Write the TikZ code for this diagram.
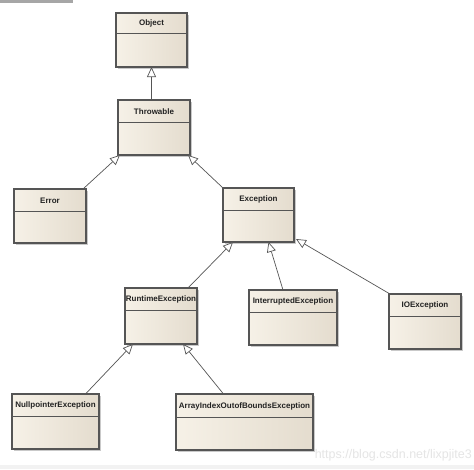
\documentclass[tikz,border=0pt]{standalone}
\usepackage{fontspec}
\setmainfont{Liberation Sans}
\usetikzlibrary{arrows.meta,shadows,calc}
\definecolor{boxL}{HTML}{F6F1E7}
\definecolor{boxR}{HTML}{E4DCCE}
\definecolor{edge}{HTML}{555555}
\definecolor{txt}{HTML}{222222}
\tikzset{
  umlbox/.style={draw=edge, line width=1.1pt, left color=boxL, right color=boxR,
    inner sep=0pt, outer sep=0pt,
    drop shadow={shadow xshift=1.6pt, shadow yshift=-1.6pt, opacity=0.35, fill=black!60}},
  umltitle/.style={font=\fontsize{8}{9}\selectfont\bfseries, text=txt, inner sep=0pt},
  divider/.style={draw=edge, line width=0.9pt},
  inherit/.style={draw=edge, line width=0.7pt, -{Triangle[open, length=10pt, width=9pt, fill=white]}}
}
\newcommand{\umlclass}[7]{%
  \node[umlbox, minimum width=#4-#2, minimum height=#5-#3] (#1) at ({(#2+#4)/2},{(#3+#5)/2}) {};
  \draw[divider] (#2,#6) -- (#4,#6);
  \node[umltitle] (#1-t) at ({(#2+#4)/2},{(#3+#6)/2+0.5}) {#7};
}
\begin{document}
\begin{tikzpicture}[x=1pt,y=-1pt]
\useasboundingbox (0,0) rectangle (474,469);
\fill[white] (0,0) rectangle (474,469);
\fill[black!35] (0,0) rectangle (73,2.5);
\fill[black!5] (0,465) rectangle (474,469);
\node[anchor=east, text=black!10, font=\fontsize{12.5}{13}\selectfont, inner sep=0pt] (wm) at (472,455) {https://blog.csdn.net/lixpjite3};

\umlclass{Object}{116}{13}{187}{67}{33}{Object}
\umlclass{Throwable}{118}{100}{190}{155}{122}{Throwable}
\umlclass{Error}{14}{189}{86}{243}{211}{Error}
\umlclass{Exception}{223}{188}{294}{242}{210}{Exception}
\umlclass{Runtime}{125}{288}{197}{344}{310}{RuntimeException}
\umlclass{Interrupted}{249}{290}{337}{345}{312}{InterruptedException}
\umlclass{IOE}{389}{294}{461}{349}{316}{IOException}
\umlclass{Nullp}{12}{394}{99}{449}{416}{NullpointerException}
\umlclass{Arr}{176}{394}{313}{450}{417}{ArrayIndexOutofBoundsException}

\draw[inherit] (Object.south |- Throwable.north) -- (Object.south);
\draw[inherit] ($(Error.north east)+(-3,0)$) -- ($(Throwable.south west)+(2,0)$);
\draw[inherit] (Exception.north west) -- ($(Throwable.south east)+(-2,0)$);
\draw[inherit] ($(Runtime.north east)+(-9,0)$) -- ($(Exception.south west)+(10,0)$);
\draw[inherit] ($(Interrupted.north)+(-10,0)$) -- ($(Exception.south)+(10,0)$);
\draw[inherit] ($(IOE.north west)+(1,0)$) -- ($(Exception.south east)+(2,-3)$);
\draw[inherit] ($(Nullp.north)+(30,0)$) -- ($(Runtime.south west)+(8,0)$);
\draw[inherit] ($(Arr.north)+(-21,0)$) -- ($(Runtime.south east)+(-14,0)$);
\end{tikzpicture}
\end{document}
